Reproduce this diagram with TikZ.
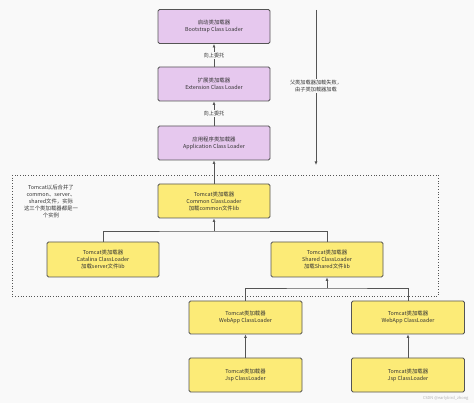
\documentclass[tikz,border=0pt]{standalone}
\usepackage{fontspec}
\setmainfont{Noto Sans CJK SC}
\usetikzlibrary{arrows.meta}
\definecolor{bgc}{HTML}{F9F9F9}
\definecolor{purp}{HTML}{E6C8EE}
\definecolor{yel}{HTML}{FCEB77}
\definecolor{edge}{HTML}{555555}
\definecolor{txt}{HTML}{333333}
\tikzset{
  box/.style={draw=edge, line width=0.9pt, rounded corners=1.5pt, minimum width=112pt, minimum height=34pt, align=center, text=txt, font=\fontsize{5.4}{7}\selectfont, inner sep=0pt},
  pbox/.style={box, fill=purp},
  ybox/.style={box, fill=yel},
  conn/.style={draw=edge, line width=0.8pt, -{Latex[length=3.5pt,width=3pt]}},
  plain/.style={draw=edge, line width=0.8pt},
  lbl/.style={font=\fontsize{5.2}{6.8}\selectfont, text=txt, fill=bgc, inner sep=1pt, align=center}
}
\begin{document}
\begin{tikzpicture}[x=1pt,y=-1pt]
\fill[bgc] (0,0) rectangle (474,403);
\useasboundingbox (0,0) rectangle (474,403);
% dashed region
\draw[edge, line width=0.7pt, dotted] (12,175) rectangle (438,296);
% purple
\node[pbox] (boot) at (214,26.5) {启动类加载器\\Bootstrap Class Loader};
\node[pbox] (ext) at (214,84) {扩展类加载器\\Extension Class Loader};
\node[pbox] (app) at (214,143) {应用程序类加载器\\Application Class Loader};
% yellow
\node[ybox] (common) at (214,201) {Tomcat类加载器\\Common ClassLoader\\加载common文件lib};
\node[ybox, minimum height=35pt] (cat) at (103,259.5) {Tomcat类加载器\\Catalina ClassLoader\\加载server文件lib};
\node[ybox, minimum height=35pt] (shared) at (327,259.5) {Tomcat类加载器\\Shared ClassLoader\\加载Shared文件lib};
\node[ybox, minimum width=113pt, minimum height=33pt] (web1) at (245.5,317.5) {Tomcat类加载器\\WebApp ClassLoader};
\node[ybox, minimum width=113pt, minimum height=33pt] (web2) at (408,317.5) {Tomcat类加载器\\WebApp ClassLoader};
\node[ybox, minimum width=113pt] (jsp1) at (245.5,375) {Tomcat类加载器\\Jsp ClassLoader};
\node[ybox, minimum width=113pt] (jsp2) at (408,375) {Tomcat类加载器\\Jsp ClassLoader};
% delegation arrows
\draw[conn] (ext) -- node[lbl] {向上委托} (boot);
\draw[conn] (app) -- node[lbl] {向上委托} (ext);
\draw[conn] (common) -- (app);
\coordinate (j1) at (214,231);
\draw[plain] (cat.north) |- (j1) -| (shared.north);
\draw[conn] (j1) -- (common);
\coordinate (j2) at (327,288);
\draw[plain] (web1.north) |- (j2) -| (web2.north);
\draw[conn] (j2) -- (shared);
\draw[conn] (jsp1) -- (web1);
\draw[conn] (jsp2) -- (web2);
% right arrow
\coordinate (rt) at (316,10);
\coordinate (rb) at (316,165);
\draw[conn] (rt) -- node[lbl, pos=0.49] {父类加载器加载失败，\\由子类加载器加载} (rb);
% note
\node[font=\fontsize{5.4}{7}\selectfont, text=txt, align=center] (note) at (51,201) {Tomcat以后合并了\\common、server、\\shared文件，实际\\这三个类加载器都是一\\个实例};
\node[font=\fontsize{4}{5}\selectfont, text=black!30, anchor=east] (wm) at (472,398) {CSDN @earlybird\_zhong};
\end{tikzpicture}
\end{document}
